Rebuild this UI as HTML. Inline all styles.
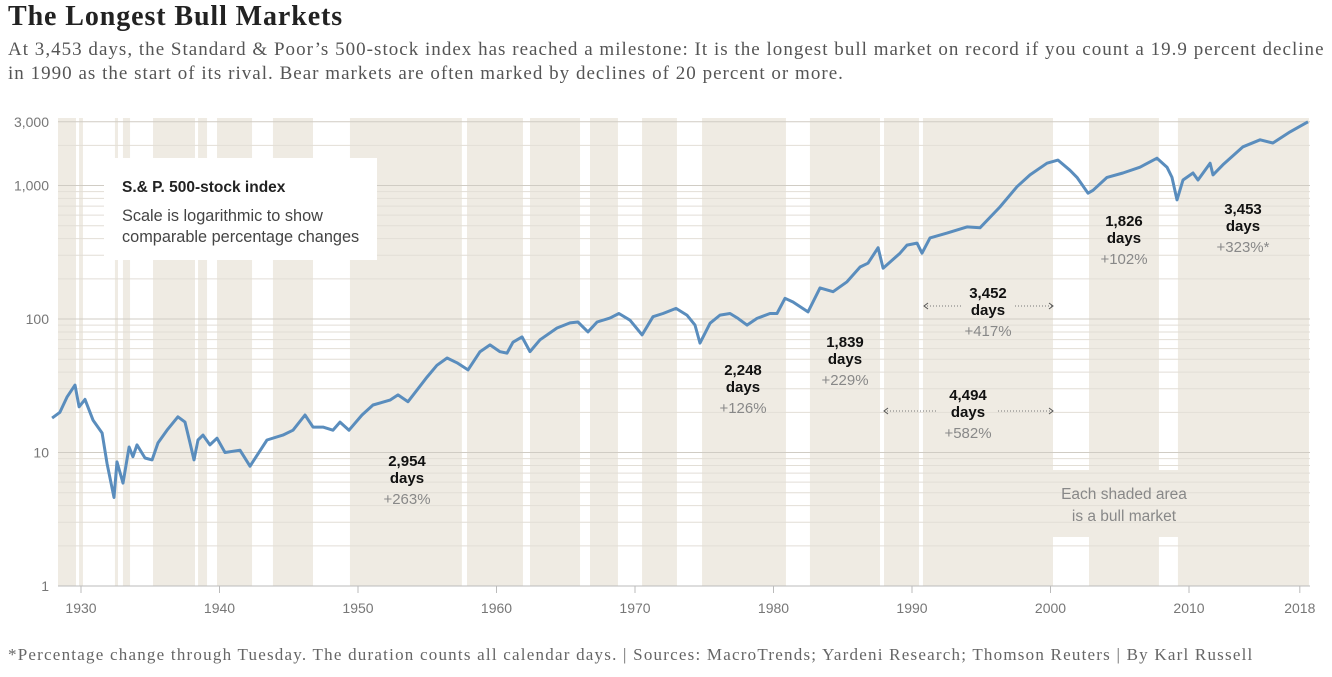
<!DOCTYPE html>
<html><head><meta charset="utf-8">
<style>
body{margin:0;background:#fff;width:1332px;height:677px;overflow:hidden;font-family:"Liberation Sans",sans-serif;}
#title{position:absolute;left:8px;top:1px;font-family:"Liberation Serif",serif;font-weight:bold;font-size:28px;letter-spacing:0.9px;color:#222;margin:0}
#sub{position:absolute;left:8px;top:38px;width:1324px;font-family:"Liberation Serif",serif;font-size:19px;letter-spacing:1.02px;line-height:24px;color:#555;margin:0}
#sub span{display:block;white-space:nowrap}
#foot{position:absolute;left:8px;top:645px;font-family:"Liberation Serif",serif;font-size:17px;letter-spacing:1.22px;color:#666;margin:0;white-space:nowrap}
svg{position:absolute;left:0;top:0}
</style></head><body>
<h1 id="title">The Longest Bull Markets</h1>
<p id="sub"><span>At 3,453 days, the Standard &amp; Poor’s 500-stock index has reached a milestone: It is the longest bull market on record if you count a 19.9 percent decline</span><span>in 1990 as the start of its rival. Bear markets are often marked by declines of 20 percent or more.</span></p>
<svg id="chart" width="1332" height="677"></svg>
<p id="foot">*Percentage change through Tuesday. The duration counts all calendar days. | Sources: MacroTrends; Yardeni Research; Thomson Reuters | By Karl Russell</p>
<script>
const years=[1927.91,1928.48,1928.99,1929.57,1929.86,1930.29,1930.87,1931.52,1931.88,1932.38,1932.6,1933.03,1933.47,1933.75,1934.04,1934.62,1935.13,1935.56,1936.21,1937.0,1937.51,1937.87,1938.16,1938.45,1938.81,1939.31,1939.82,1940.4,1941.48,1942.2,1943.43,1944.58,1945.31,1946.17,1946.75,1947.47,1948.19,1948.7,1949.35,1950.29,1951.08,1952.31,1952.89,1953.61,1954.98,1955.7,1956.43,1957.15,1957.94,1958.81,1959.53,1960.25,1960.76,1961.19,1961.84,1962.42,1963.14,1964.37,1965.31,1965.88,1966.61,1967.26,1968.19,1968.84,1969.64,1970.51,1971.3,1972.02,1972.96,1973.75,1974.33,1974.69,1975.42,1976.14,1976.86,1977.44,1978.09,1978.81,1979.75,1980.25,1980.83,1981.41,1982.49,1983.36,1984.3,1985.31,1986.25,1986.82,1987.55,1987.91,1989.13,1989.64,1990.36,1990.72,1991.3,1992.53,1993.97,1994.91,1996.35,1997.58,1998.52,1999.75,2000.54,2001.41,2001.91,2002.71,2003.07,2004.08,2005.23,2006.46,2007.69,2008.41,2008.77,2009.13,2009.57,2010.29,2010.65,2011.52,2011.73,2012.45,2013.9,2015.13,2016.06,2017.29,2018.59];
const values=[18.1,20,26,32,22,25,17.5,14,8.3,4.6,8.5,5.9,11,9.3,11.4,9.1,8.8,11.8,14.7,18.5,16.9,11.8,8.8,12.4,13.5,11.4,12.8,10,10.4,7.9,12.4,13.5,14.7,19.1,15.5,15.5,14.7,16.9,14.7,19.1,22.7,24.7,27,24,36.7,45,51,47,41.6,56.9,64,56.9,55.5,67,73.5,57,69.8,85.6,93.5,95,80,95,101.5,110,98,76,104,110,120,107,90,66,93,107,110,101,90,101,110,110,143,134,113,171,160,190,245,262,342,240,311,358,370,311,405,440,490,482,690,980,1200,1470,1550,1300,1150,875,920,1150,1240,1370,1600,1370,1150,780,1100,1240,1100,1470,1200,1430,1950,2200,2080,2520,3000];
const bullStart=[1928.34,1929.86,1932.45,1933.03,1935.2,1938.45,1939.82,1943.86,1949.42,1957.87,1962.42,1966.75,1970.51,1974.84,1982.63,1987.98,1990.79,2002.78,2009.2];
const bullEnd=[1929.64,1930.14,1932.67,1933.54,1938.23,1939.1,1942.35,1946.75,1957.5,1961.91,1966.03,1968.77,1973.03,1980.9,1987.69,1990.51,2000.18,2007.83,2018.66];
const yTicks=[1,10,100,1000,3000];
const yTickLabels=["1","10","100","1,000","3,000"];
const xTicks=[1930,1940,1950,1960,1970,1980,1990,2000,2010,2018];

const NS="http://www.w3.org/2000/svg";
const svg=document.getElementById('chart');
const X=y=>81+(y-1930)*13.85;
const Y=v=>586-133.5*Math.log10(v);
const L=58,R=1310,T=118,B=586;
function el(tag,attrs,parent){const e=document.createElementNS(NS,tag);for(const k in attrs)e.setAttribute(k,attrs[k]);(parent||svg).appendChild(e);return e;}
function txt(s,attrs){const e=el('text',attrs);e.textContent=s;return e;}

bullStart.forEach((s,i)=>{
  const r=el('rect',{x:Math.max(L,X(s)),y:T,width:Math.min(R,X(bullEnd[i]))-Math.max(L,X(s)),height:B-T,fill:'#efebe3'});
  
  
});
const lb=el('rect',{x:1028,y:470,width:190,height:67,fill:'#efebe3'});



for(let d=0;d<4;d++){for(let m=2;m<=9;m++){const v=m*Math.pow(10,d);if(v>=3000)continue;
  const g=el('line',{x1:L,x2:R,y1:Y(v),y2:Y(v),stroke:'#e2ded6','stroke-width':1});
  
  }}
yTicks.forEach((v,i)=>{
  const g=el('line',{x1:L,x2:R,y1:Y(v),y2:Y(v),stroke:i===0?'#bbb':'#d0ccc4','stroke-width':1});
  
  
  const t=txt(yTickLabels[i],{x:49,y:Y(v)+5,'text-anchor':'end','font-size':14,fill:'#777'});
  
  
});
xTicks.forEach(yr=>{
  const tk=el('line',{x1:X(yr),x2:X(yr),y1:B,y2:B+7,stroke:'#bbb'});
  
  
  const t=txt(String(yr),{x:X(yr),y:B+27,'text-anchor':'middle','font-size':14,fill:'#777'});
  
  
});

const lg=el('rect',{x:104,y:158,width:273,height:102,fill:'#fff'});


const l1=txt('S.& P. 500-stock index',{x:122,y:192,'font-size':15.5,'font-weight':'bold',fill:'#222'});


const l2=txt('Scale is logarithmic to show',{x:122,y:221,'font-size':16.3,fill:'#444'});


const l3=txt('comparable percentage changes',{x:122,y:242,'font-size':16.3,fill:'#444'});



let d='';years.forEach((yr,i)=>{d+=(i?'L':'M')+X(yr).toFixed(1)+','+Y(values[i]).toFixed(1);});
const p=el('path',{d:d,fill:'none',stroke:'#5a8dbd','stroke-width':3,'stroke-linejoin':'round'});



const ann=[[407,466,'2,954','+263%'],[743,375,'2,248','+126%'],[845,347,'1,839','+229%'],[988,298,'3,452','+417%'],[968,400,'4,494','+582%'],[1124,226,'1,826','+102%'],[1243,214,'3,453','+323%*']];
ann.forEach(a=>{
  const t1=txt(a[2],{x:a[0],y:a[1],'text-anchor':'middle','font-size':15,'font-weight':'bold',fill:'#111'});
  
  
  const t2=txt('days',{x:a[0],y:a[1]+17,'text-anchor':'middle','font-size':15,'font-weight':'bold',fill:'#111'});
  
  
  const t3=txt(a[3],{x:a[0],y:a[1]+38,'text-anchor':'middle','font-size':15,fill:'#888'});
  
  
});
function arrow(x1,x2,gap1,gap2,y){
  [[x1,gap1],[gap2,x2]].forEach(s=>{
    const a=el('line',{x1:s[0],x2:s[1],y1:y,y2:y,stroke:'#777','stroke-dasharray':'1,2','stroke-width':1});
    
    
  });
  const h1=el('path',{d:`M${x1+4},${y-3}L${x1},${y}L${x1+4},${y+3}`,fill:'none',stroke:'#555'});
  
  
  const h2=el('path',{d:`M${x2-4},${y-3}L${x2},${y}L${x2-4},${y+3}`,fill:'none',stroke:'#555'});
  
  
}
arrow(924,1053,962,1015,306);
arrow(884,1053,938,998,411);
const n1=txt('Each shaded area',{x:1124,y:499,'text-anchor':'middle','font-size':15.5,fill:'#888'});


const n2=txt('is a bull market',{x:1124,y:521,'text-anchor':'middle','font-size':15.5,fill:'#888'});


</script>
</body></html>
